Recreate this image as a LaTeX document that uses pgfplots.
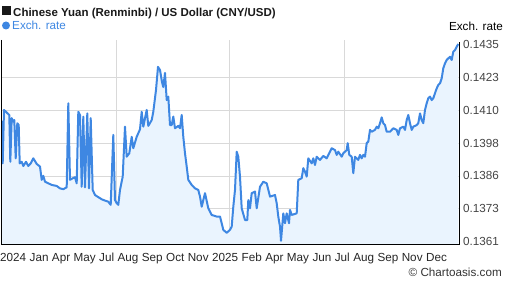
\documentclass[border=0pt]{standalone}
\usepackage{fontspec}
\setmainfont{Liberation Sans}
\usepackage{pgfplots}
\usepackage{pgfplotstable}
\pgfplotsset{compat=1.18}
\definecolor{linec}{RGB}{62,135,226}
\definecolor{fillc}{RGB}{234,244,254}
\definecolor{gridc}{RGB}{217,217,217}
\definecolor{labc}{RGB}{68,68,68}
\newcommand{\fs}{\fontsize{11.7pt}{13pt}\selectfont}
\pgfplotstableread{
x y
1.5 0.14042
1.7 0.14061
2.7 0.13904
4.0 0.14105
6.7 0.14095
9.3 0.14086
10.3 0.13910
11.7 0.14074
13.3 0.14061
14.3 0.14067
15.7 0.13923
17.3 0.14055
18.7 0.14048
19.7 0.13904
21.7 0.13910
23.3 0.13894
26 0.13910
28.3 0.13894
30.7 0.13904
33.3 0.13923
36.7 0.13902
40 0.13892
41.7 0.13842
43.3 0.13857
45 0.13835
48.3 0.13829
51.7 0.13823
56.7 0.13819
60 0.13810
63.3 0.13807
66.7 0.13814
68.3 0.14130
70 0.13842
72.7 0.13848
75 0.13852
76.7 0.13829
78.3 0.14098
80 0.14086
81.7 0.13816
83.3 0.14080
85 0.13814
87.3 0.14092
89 0.13810
90.7 0.14074
92.7 0.13804
95 0.13785
98.3 0.13777
101.7 0.13769
105 0.13764
108.3 0.13760
110.7 0.13748
113.3 0.14011
115 0.13766
116.7 0.13754
118.3 0.13748
120 0.13804
122.7 0.13854
125 0.14042
126.7 0.13929
129.3 0.13942
131.7 0.14004
133.3 0.13961
136.7 0.14004
140 0.14032
141.7 0.14098
143.3 0.14042
146.7 0.14105
148.3 0.14045
151.7 0.14067
153.3 0.14098
156 0.14180
158 0.14267
160 0.14255
162 0.14210
163.3 0.14191
165 0.14244
166.7 0.14142
168.3 0.14155
170 0.14048
171.7 0.14048
173.3 0.14080
175 0.14036
178.3 0.14045
180 0.14036
181.7 0.14086
183.3 0.14004
185 0.13942
186.7 0.13892
188.3 0.13842
191.7 0.13823
195 0.13810
198.3 0.13804
200 0.13779
201.7 0.13741
205 0.13792
208.3 0.13735
211.7 0.13710
216.7 0.13704
220 0.13704
223.3 0.13654
226.7 0.13643
230 0.13654
231.7 0.13666
233.3 0.13741
235 0.13804
236.7 0.13948
238.3 0.13929
240 0.13854
241.7 0.13735
245 0.13691
247.3 0.13691
248.3 0.13766
250 0.13735
251.7 0.13792
255 0.13798
256.7 0.13735
260 0.13816
263.3 0.13835
266.7 0.13829
270 0.13779
275 0.13785
276.7 0.13754
278.3 0.13704
280 0.13666
281 0.13613
283.3 0.13716
285 0.13679
286.7 0.13716
289 0.13679
290 0.13729
291.7 0.13710
296.7 0.13716
298.3 0.13842
301.7 0.13848
303.3 0.13886
305 0.13873
306.7 0.13854
308.3 0.13923
311.7 0.13904
313.3 0.13923
315 0.13898
316.7 0.13929
320 0.13917
323.3 0.13932
326.7 0.13923
330 0.13948
331.7 0.13961
335 0.13954
336.7 0.13936
338.3 0.13948
341.7 0.13929
343.3 0.13942
346.7 0.13954
347.7 0.13980
349.3 0.13936
351.7 0.13929
353.3 0.13867
355 0.13929
358.3 0.13917
360 0.13936
361.7 0.13923
363.3 0.13936
365 0.13929
366.7 0.13980
368.3 0.13986
370 0.14030
371.7 0.14023
375 0.14030
376.7 0.14042
378.3 0.14036
380 0.14055
381.7 0.14077
383.3 0.14055
385 0.14048
386.7 0.14023
390 0.14023
393.3 0.14036
396.7 0.14030
398.3 0.14011
400 0.14036
403.3 0.14042
405 0.14030
406.7 0.14067
408.3 0.14086
410 0.14055
411.7 0.14030
413.3 0.14042
416.7 0.14048
418.3 0.14055
420 0.14092
421.7 0.14067
423.3 0.14055
425 0.14105
426.7 0.14130
428.3 0.14149
430 0.14155
431.7 0.14142
433.3 0.14149
435 0.14168
436.7 0.14186
438.3 0.14199
440 0.14205
441.7 0.14224
443.3 0.14262
445 0.14280
446.7 0.14293
448.3 0.14299
450 0.14305
451.7 0.14293
453.3 0.14324
455 0.14330
456.7 0.14343
458.3 0.14353
}\rates
\begin{document}
\begin{tikzpicture}
\path[use as bounding box] (0,0) rectangle (507pt,-288pt);
\begin{axis}[name=ax, at={(1.5pt,-245pt)}, anchor=south west,
  scale only axis, width=457.5pt, height=205pt,
  xmin=1.5, xmax=459, ymin=0.13597, ymax=0.14368,
  axis line style={draw=none},
  major tick length=0pt,
  xtick={13.1,39.1,61.1,84.7,106.7,128.0,152.3,175.3,198.2,225.2,251.7,274.4,298.0,322.0,342.3,363.7,388.0,412.2,436.5},
  xticklabels={2024,Jan,Apr,May,Jul,Aug,Sep,Oct,Nov,2025,Feb,Apr,May,Jun,Jul,Aug,Sep,Nov,Dec},
  xticklabel style={font=\fs, text=black!85, inner sep=0pt, anchor=base, yshift=-16.5pt},
  extra x ticks={116,229.5,344}, extra x tick labels={},
  extra x tick style={grid=major},
  ytick={0.1361,0.137333,0.138567,0.1398,0.141033,0.142267,0.1435},
  yticklabels={0.1361,0.1373,0.1386,0.1398,0.1410,0.1423,0.1435},
  yticklabel pos=right,
  yticklabel style={font=\fs, text=labc, anchor=west, inner sep=0pt, xshift=4pt},
  extra y ticks={0.137333,0.138567,0.1398,0.141033,0.142267}, extra y tick labels={},
  extra y tick style={grid=major},
  grid style={gridc, line width=0.8pt},
  scaled y ticks=false,
]
\addplot[draw=none, fill=fillc] table[x=x, y=y] {\rates} \closedcycle;
\addplot[linec, line width=2pt, line join=round] table[x=x, y=y] {\rates};
\end{axis}
\draw[black, line width=1pt] (ax.north west) -- (ax.south west) -- (ax.south east) -- ([yshift=-2pt]ax.north east);
\fill[black!90] (2pt,-6pt) rectangle (11pt,-15pt);
\node[anchor=base west, inner sep=0pt, font=\bfseries\fontsize{11.5pt}{13pt}\selectfont, text=black!90] at (13pt,-16.5pt) {Chinese Yuan (Renminbi) / US Dollar (CNY/USD)};
\fill[linec] (6pt,-25.5pt) circle (4pt);
\node[anchor=base west, inner sep=0pt, font=\fs, text=linec] at (12pt,-29.5pt) {Exch. rate};
\node[anchor=base east, inner sep=0pt, font=\fs] at (503pt,-31pt) {Exch. rate};
\node[anchor=base east, inner sep=0pt, font=\fs, text=black!80] at (502pt,-277pt) {© Chartoasis.com};
\end{tikzpicture}
\end{document}
